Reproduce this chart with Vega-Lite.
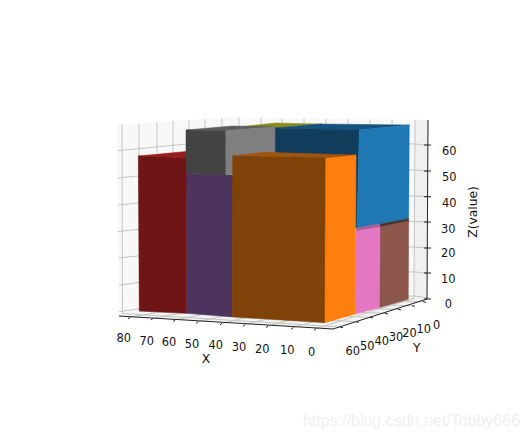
{"$schema":"https://vega.github.io/schema/vega-lite/v6.json","width":529,"height":439,"autosize":{"type":"fit","contains":"padding"},"padding":0,"background":"white","config":{"view":{"stroke":null}},
"datasets":{
"panes":[
{"f":"left","o":0,"h":117,"v":125,"c":"#f8f8f8"},{"f":"left","o":1,"h":228,"v":117.5,"c":"#f8f8f8"},{"f":"left","o":2,"h":228,"v":297,"c":"#f8f8f8"},{"f":"left","o":3,"h":119,"v":316,"c":"#f8f8f8"},
{"f":"back","o":0,"h":228,"v":117.5,"c":"#f8f8f8"},{"f":"back","o":1,"h":415,"v":120,"c":"#f8f8f8"},{"f":"back","o":2,"h":415,"v":297,"c":"#f8f8f8"},{"f":"back","o":3,"h":228,"v":297,"c":"#f8f8f8"},
{"f":"right","o":0,"h":415,"v":120,"c":"#f0f0f0"},{"f":"right","o":1,"h":428,"v":120.5,"c":"#f0f0f0"},{"f":"right","o":2,"h":427,"v":299,"c":"#f0f0f0"},{"f":"right","o":3,"h":415,"v":297,"c":"#f0f0f0"},
{"f":"floor","o":0,"h":119,"v":316,"c":"#f3f3f3"},{"f":"floor","o":1,"h":333,"v":329,"c":"#f3f3f3"},{"f":"floor","o":2,"h":427,"v":299,"c":"#f3f3f3"},{"f":"floor","o":3,"h":415,"v":297,"c":"#f3f3f3"},{"f":"floor","o":4,"h":228,"v":297,"c":"#f3f3f3"}
],
"grid":[
{"a":122,"b":124.7,"a2":122.5,"b2":313},{"a":139,"b":123.5,"a2":139.5,"b2":311},{"a":157,"b":122.2,"a2":157,"b2":310},{"a":173,"b":121,"a2":173,"b2":308},{"a":189,"b":120,"a2":189,"b2":306},{"a":205,"b":119,"a2":205,"b2":303},{"a":222,"b":118,"a2":222,"b2":300},
{"a":239,"b":117.7,"a2":239,"b2":297},{"a":261,"b":118,"a2":261,"b2":297},{"a":282,"b":118.3,"a2":282,"b2":297},{"a":304,"b":118.6,"a2":304,"b2":297},{"a":326,"b":118.8,"a2":326,"b2":297},{"a":348,"b":119.1,"a2":348,"b2":297},{"a":370,"b":119.4,"a2":370,"b2":297},{"a":392,"b":119.7,"a2":392,"b2":297},{"a":415,"b":120,"a2":414,"b2":297},
{"a":118,"b":150.7,"a2":228,"b2":140},{"a":118,"b":178,"a2":228,"b2":167},{"a":118,"b":205,"a2":228,"b2":194},{"a":118,"b":231.5,"a2":228,"b2":220},{"a":119,"b":258,"a2":228,"b2":246},{"a":119,"b":285,"a2":228,"b2":271},{"a":119,"b":311.7,"a2":228,"b2":296},
{"a":228,"b":140,"a2":415,"b2":144},{"a":228,"b":167,"a2":415,"b2":170},{"a":228,"b":194,"a2":415,"b2":196},{"a":228,"b":220,"a2":415,"b2":221.5},{"a":228,"b":246,"a2":415,"b2":247},{"a":228,"b":271,"a2":415,"b2":272},{"a":228,"b":296,"a2":415,"b2":296},
{"a":415,"b":144,"a2":428,"b2":145},{"a":415,"b":170,"a2":428,"b2":171},{"a":415,"b":196,"a2":428,"b2":196.7},{"a":415,"b":221.5,"a2":428,"b2":222},{"a":415,"b":247,"a2":428,"b2":248},{"a":415,"b":272,"a2":428,"b2":273},{"a":415,"b":296,"a2":428,"b2":298},
{"a":130,"b":317.3,"a2":239,"b2":298},{"a":153,"b":318.3,"a2":261,"b2":298},{"a":175,"b":320,"a2":282,"b2":298},{"a":198,"b":321.7,"a2":304,"b2":298},{"a":222,"b":323.3,"a2":326,"b2":298},{"a":245,"b":324.7,"a2":348,"b2":298},{"a":268,"b":326,"a2":370,"b2":298},{"a":293,"b":327.7,"a2":392,"b2":298},{"a":316,"b":328.5,"a2":415,"b2":298},
{"a":340,"b":327,"a2":122,"b2":313.5},{"a":356,"b":321.7,"a2":139,"b2":311},{"a":370,"b":317.3,"a2":157,"b2":308},{"a":385,"b":313.3,"a2":173,"b2":306},{"a":398,"b":309.3,"a2":189,"b2":304},{"a":412,"b":305.7,"a2":205,"b2":302},{"a":423,"b":301.7,"a2":222,"b2":299}
],
"axes":[
{"a":119,"b":316,"a2":333,"b2":329},{"a":333,"b":329,"a2":427,"b2":299},{"a":428,"b":120,"a2":427,"b2":299},
{"a":130,"b":317.3,"a2":128,"b2":319},{"a":153,"b":318.3,"a2":151,"b2":320},{"a":175,"b":320,"a2":173,"b2":321.7},{"a":198,"b":321.7,"a2":196,"b2":323.4},{"a":222,"b":323.3,"a2":220,"b2":325},{"a":245,"b":324.7,"a2":243,"b2":326.4},{"a":268,"b":326,"a2":266,"b2":327.7},{"a":293,"b":327.7,"a2":291,"b2":329.4},{"a":316,"b":328.5,"a2":314,"b2":330.2},
{"a":340,"b":327,"a2":343,"b2":327.6},{"a":356,"b":321.7,"a2":359,"b2":322.3},{"a":370,"b":317.3,"a2":373,"b2":318},{"a":385,"b":313.3,"a2":388,"b2":314},{"a":398,"b":309.3,"a2":401,"b2":310},{"a":412,"b":305.7,"a2":415,"b2":306.3},{"a":423,"b":301.7,"a2":426,"b2":302.3},
{"a":424,"b":145,"a2":431,"b2":145},{"a":424,"b":171,"a2":431,"b2":171},{"a":424,"b":196.7,"a2":431,"b2":196.7},{"a":424,"b":222,"a2":431,"b2":222},{"a":424,"b":248,"a2":431,"b2":248},{"a":424,"b":273,"a2":431,"b2":273},{"a":424,"b":299,"a2":431,"b2":299}
],
"bars":[
{"f":"b1","o":0,"h":243,"v":126.5,"c":"#8b8c19"},{"f":"b1","o":1,"h":275,"v":123,"c":"#8b8c19"},{"f":"b1","o":2,"h":322,"v":124,"c":"#8b8c19"},{"f":"b1","o":3,"h":275,"v":128,"c":"#8b8c19"},
{"f":"b2","o":0,"h":275,"v":128,"c":"#14527f"},{"f":"b2","o":1,"h":320,"v":124,"c":"#14527f"},{"f":"b2","o":2,"h":409.3,"v":125,"c":"#14527f"},{"f":"b2","o":3,"h":359.3,"v":130,"c":"#14527f"},
{"f":"b3","o":0,"h":275,"v":128,"c":"#123c5c"},{"f":"b3","o":1,"h":359.3,"v":130,"c":"#123c5c"},{"f":"b3","o":2,"h":357,"v":228,"c":"#123c5c"},{"f":"b3","o":3,"h":275,"v":228,"c":"#123c5c"},
{"f":"b4","o":0,"h":359.3,"v":130,"c":"#1f77b4"},{"f":"b4","o":1,"h":409.3,"v":125,"c":"#1f77b4"},{"f":"b4","o":2,"h":408.7,"v":218.7,"c":"#1f77b4"},{"f":"b4","o":3,"h":357,"v":228,"c":"#1f77b4"},
{"f":"b5","o":0,"h":380,"v":226.5,"c":"#8c564b"},{"f":"b5","o":1,"h":408.7,"v":220.5,"c":"#8c564b"},{"f":"b5","o":2,"h":408.3,"v":299.3,"c":"#8c564b"},{"f":"b5","o":3,"h":379.3,"v":307.7,"c":"#8c564b"},
{"f":"b6","o":0,"h":356,"v":230.5,"c":"#e377c2"},{"f":"b6","o":1,"h":380,"v":226.5,"c":"#e377c2"},{"f":"b6","o":2,"h":379.3,"v":307.7,"c":"#e377c2"},{"f":"b6","o":3,"h":355.3,"v":314,"c":"#e377c2"},
{"f":"s1","o":0,"h":380,"v":224,"c":"#47302b"},{"f":"s1","o":1,"h":408.7,"v":218.7,"c":"#47302b"},{"f":"s1","o":2,"h":408.7,"v":220.5,"c":"#47302b"},{"f":"s1","o":3,"h":380,"v":226.5,"c":"#47302b"},
{"f":"s2","o":0,"h":357,"v":228,"c":"#a95a90"},{"f":"s2","o":1,"h":380,"v":224,"c":"#a95a90"},{"f":"s2","o":2,"h":380,"v":226.5,"c":"#a95a90"},{"f":"s2","o":3,"h":356,"v":230.5,"c":"#a95a90"},
{"f":"b7","o":0,"h":186,"v":173,"c":"#4c345f"},{"f":"b7","o":1,"h":233,"v":175,"c":"#4c345f"},{"f":"b7","o":2,"h":232.5,"v":317,"c":"#4c345f"},{"f":"b7","o":3,"h":187,"v":313.3,"c":"#4c345f"},
{"f":"b8","o":0,"h":138.3,"v":156,"c":"#9a1c1d"},{"f":"b8","o":1,"h":186,"v":151.5,"c":"#9a1c1d"},{"f":"b8","o":2,"h":186,"v":158,"c":"#9a1c1d"},
{"f":"b9","o":0,"h":138.3,"v":156,"c":"#6f1515"},{"f":"b9","o":1,"h":186,"v":158,"c":"#6f1515"},{"f":"b9","o":2,"h":186.7,"v":313.3,"c":"#6f1515"},{"f":"b9","o":3,"h":139.3,"v":311,"c":"#6f1515"},
{"f":"c1","o":0,"h":186,"v":130,"c":"#5c5c5c"},{"f":"c1","o":1,"h":232,"v":126,"c":"#5c5c5c"},{"f":"c1","o":2,"h":275,"v":126.7,"c":"#5c5c5c"},{"f":"c1","o":3,"h":225.3,"v":130.7,"c":"#5c5c5c"},
{"f":"c2","o":0,"h":225.3,"v":130.7,"c":"#7f7f7f"},{"f":"c2","o":1,"h":275,"v":126.7,"c":"#7f7f7f"},{"f":"c2","o":2,"h":275,"v":170,"c":"#7f7f7f"},{"f":"c2","o":3,"h":225.3,"v":175,"c":"#7f7f7f"},
{"f":"c3","o":0,"h":186,"v":130,"c":"#434343"},{"f":"c3","o":1,"h":225.3,"v":130.7,"c":"#434343"},{"f":"c3","o":2,"h":225.3,"v":175,"c":"#434343"},{"f":"c3","o":3,"h":186,"v":173,"c":"#434343"},
{"f":"d1","o":0,"h":232.7,"v":156,"c":"#a0540c"},{"f":"d1","o":1,"h":263.3,"v":152.3,"c":"#a0540c"},{"f":"d1","o":2,"h":356,"v":155,"c":"#a0540c"},{"f":"d1","o":3,"h":325.7,"v":158.3,"c":"#a0540c"},
{"f":"d2","o":0,"h":232.7,"v":156,"c":"#7f4208"},{"f":"d2","o":1,"h":325.7,"v":158.3,"c":"#7f4208"},{"f":"d2","o":2,"h":325,"v":322.7,"c":"#7f4208"},{"f":"d2","o":3,"h":232.3,"v":317,"c":"#7f4208"},
{"f":"d3","o":0,"h":325.7,"v":158.3,"c":"#ff7f0e"},{"f":"d3","o":1,"h":356,"v":155,"c":"#ff7f0e"},{"f":"d3","o":2,"h":355.3,"v":314,"c":"#ff7f0e"},{"f":"d3","o":3,"h":325,"v":322.7,"c":"#ff7f0e"}
],
"labels":[
{"t":"80","h":123.7,"v":339.3},{"t":"70","h":146.7,"v":341.7},{"t":"60","h":169,"v":343.3},{"t":"50","h":192,"v":344.7},{"t":"40","h":215.7,"v":346.3},{"t":"30","h":239,"v":348},{"t":"20","h":262.3,"v":349.7},{"t":"10","h":287.3,"v":351},{"t":"0","h":311.7,"v":352.7},
{"t":"60","h":352.7,"v":351.7},{"t":"50","h":367.3,"v":347},{"t":"40","h":381.7,"v":342.3},{"t":"30","h":396,"v":338},{"t":"20","h":409.5,"v":334},{"t":"10","h":423.8,"v":330},{"t":"0","h":436.7,"v":326},
{"t":"60","h":449.3,"v":152},{"t":"50","h":449.3,"v":178},{"t":"40","h":449.3,"v":203.7},{"t":"30","h":448.3,"v":229.5},{"t":"20","h":448.3,"v":254.3},{"t":"10","h":448.3,"v":280.3},{"t":"0","h":448.3,"v":305.3}
],
"titles":[{"t":"X","h":206,"v":358.7},{"t":"Y","h":416.7,"v":347.7}]
},
"encoding":{
"x":{"field":"h","type":"quantitative","scale":{"domain":[0,529],"nice":false,"zero":false},"axis":null},
"y":{"field":"v","type":"quantitative","scale":{"domain":[439,0],"nice":false,"zero":false},"axis":null}
},
"layer":[
{"data":{"name":"panes"},"mark":{"type":"line","interpolate":"linear-closed","strokeWidth":0.5},"encoding":{"detail":{"field":"f"},"order":{"field":"o"},"fill":{"field":"c","type":"nominal","scale":null},"stroke":{"field":"c","type":"nominal","scale":null}}},
{"data":{"name":"grid"},"mark":{"type":"rule","stroke":"#c4c4c4","strokeWidth":1},"encoding":{"x":{"field":"a","type":"quantitative","scale":{"domain":[0,529],"nice":false,"zero":false},"axis":null},"y":{"field":"b","type":"quantitative","scale":{"domain":[439,0],"nice":false,"zero":false},"axis":null},"x2":{"field":"a2"},"y2":{"field":"b2"}}},
{"data":{"name":"axes"},"mark":{"type":"rule","stroke":"#222222","strokeWidth":1},"encoding":{"x":{"field":"a","type":"quantitative","scale":{"domain":[0,529],"nice":false,"zero":false},"axis":null},"y":{"field":"b","type":"quantitative","scale":{"domain":[439,0],"nice":false,"zero":false},"axis":null},"x2":{"field":"a2"},"y2":{"field":"b2"}}},
{"data":{"name":"bars"},"mark":{"type":"line","interpolate":"linear-closed","strokeWidth":0.5},"encoding":{"detail":{"field":"f"},"order":{"field":"o"},"fill":{"field":"c","type":"nominal","scale":null},"stroke":{"field":"c","type":"nominal","scale":null}}},
{"data":{"name":"labels"},"mark":{"type":"text","font":"DejaVu Sans","fontSize":11.4,"fill":"#111111","align":"center","baseline":"middle"},"encoding":{"text":{"field":"t"}}},
{"data":{"name":"titles"},"mark":{"type":"text","font":"DejaVu Sans","fontSize":12.3,"fill":"#111111","align":"center","baseline":"middle"},"encoding":{"text":{"field":"t"}}},
{"data":{"values":[{"t":"Z(value)","h":472.5,"v":212}]},"mark":{"type":"text","font":"DejaVu Sans","fontSize":12.3,"fill":"#111111","align":"center","baseline":"middle","angle":270},"encoding":{"text":{"field":"t"}}},
{"data":{"values":[{"t":"https://blog.csdn.net/Tobby666","h":411.5,"v":420.5}]},"mark":{"type":"text","font":"Liberation Sans","fontSize":16,"fill":"#efefef","align":"center","baseline":"middle"},"encoding":{"text":{"field":"t"}}}
]}
